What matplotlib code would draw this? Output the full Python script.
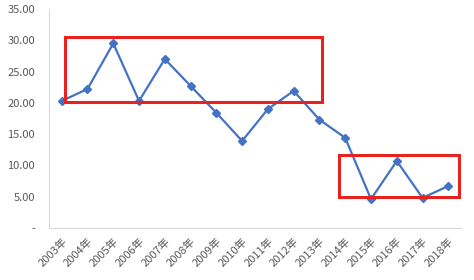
import matplotlib
matplotlib.use('Agg')
import matplotlib.pyplot as plt
from matplotlib.patches import Rectangle

plt.rcParams['font.family'] = ['Noto Sans CJK SC', 'DejaVu Sans']

# data
years = ['2003年', '2004年', '2005年', '2006年', '2007年', '2008年', '2009年', '2010年',
         '2011年', '2012年', '2013年', '2014年', '2015年', '2016年', '2017年', '2018年']
values = [20.3, 22.2, 29.5, 20.3, 27.0, 22.7, 18.4, 13.9,
          19.0, 21.9, 17.3, 14.4, 4.6, 10.7, 4.8, 6.7]
yticks = [0, 5, 10, 15, 20, 25, 30, 35]

fig = plt.figure(figsize=(4.74, 2.8), dpi=100)
ax = fig.add_axes([0.103, 0.186, 0.870, 0.782])

x = list(range(len(years)))
ax.plot(x, values, color='#4472C4', lw=1.6, marker='D', ms=4.5, zorder=3)

# red highlight boxes
ax.add_patch(Rectangle((0.12, 20.1), 9.98, 10.4, fill=False, ec='#E8231F', lw=2.2, zorder=4))
ax.add_patch(Rectangle((10.74, 4.95), 4.66, 6.7, fill=False, ec='#E8231F', lw=2.2, zorder=4))

ax.set_xlim(-0.5, len(years) - 0.5)
ax.set_ylim(0, 35)
ax.set_yticks(yticks)
ax.set_yticklabels(['-' if v == 0 else '%.2f' % v for v in yticks])
ax.set_xticks(x)
ax.set_xticklabels(years, rotation=45, ha='right', rotation_mode='anchor')

for s in ['top', 'right']:
    ax.spines[s].set_visible(False)
for s in ['left', 'bottom']:
    ax.spines[s].set_color('#D9D9D9')
ax.tick_params(length=0, labelsize=8, colors='#595959')
ax.tick_params(axis='y', pad=10)
ax.tick_params(axis='x', pad=6)

fig.savefig('out.png', dpi=100)
